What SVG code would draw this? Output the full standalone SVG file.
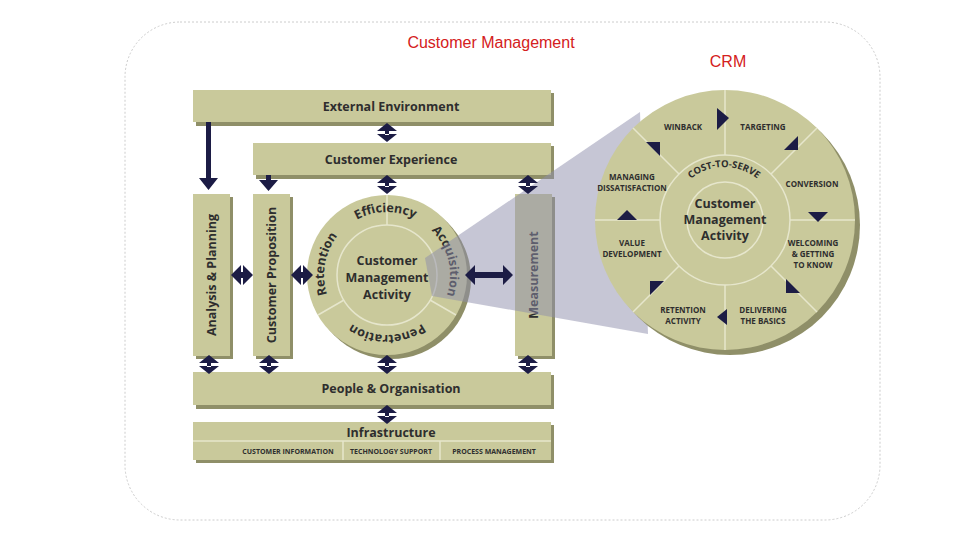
<svg xmlns="http://www.w3.org/2000/svg" width="960" height="540" viewBox="0 0 960 540">
<style>
.box{fill:#c9c99b}
.sh{fill:#8f8f68}
.t{font-family:"Open Sans","DejaVu Sans",sans-serif;font-weight:bold;fill:#2e2e2e;text-anchor:middle}
.s{font-size:8px}
.m{font-size:12.5px}
.a{fill:#1c1c45}
.div{stroke:#e6e6cc;stroke-width:1.5;fill:none}
</style>
<defs>
<path id="ring" d="M387,338 A63,63 0 1 1 387,212 A63,63 0 1 1 387,338"/>
<path id="pen" d="M447,275 A60,60 0 0 1 327,275"/>
<path id="cts" d="M671,220 A53,53 0 0 1 777,220"/>
</defs>
<rect x="125" y="22" width="755" height="498" rx="55" fill="#fff" stroke="#ccc" stroke-dasharray="2,2"/>
<text x="491" y="48" font-family="Liberation Sans,Arial,sans-serif" font-size="16" fill="#d42020" text-anchor="middle">Customer Management</text>
<text x="728" y="67" font-family="Liberation Sans,Arial,sans-serif" font-size="16" fill="#d42020" text-anchor="middle">CRM</text>

<g id="external"><rect class="sh" x="196" y="93" width="358" height="33"/><rect class="box" x="193" y="90" width="358" height="32"/><text class="t m" x="391" y="111">External Environment</text></g>
<g id="experience"><rect class="sh" x="256" y="146" width="298" height="33"/><rect class="box" x="253" y="143" width="298" height="32"/><text class="t m" x="391" y="164">Customer Experience</text></g>
<g id="analysis"><rect class="sh" x="196" y="197" width="37" height="162"/><rect class="box" x="193" y="194" width="37" height="162"/><text class="t m" transform="translate(216,275) rotate(-90)">Analysis &amp; Planning</text></g>
<g id="proposition"><rect class="sh" x="256" y="197" width="37" height="162"/><rect class="box" x="253" y="194" width="37" height="162"/><text class="t m" transform="translate(276,275) rotate(-90)">Customer Proposition</text></g>
<g id="measurement"><rect class="sh" x="518" y="197" width="37" height="162"/><rect class="box" x="515" y="194" width="37" height="162"/><text class="t m" transform="translate(538,275) rotate(-90)">Measurement</text></g>
<g id="people"><rect class="sh" x="196" y="375" width="358" height="34"/><rect class="box" x="193" y="372" width="358" height="33"/><text class="t m" x="391" y="393">People &amp; Organisation</text></g>
<g id="infra"><rect class="sh" x="196" y="425" width="358" height="38"/><rect class="box" x="193" y="422" width="358" height="38"/><text class="t m" x="391" y="437">Infrastructure</text>
<path class="div" d="M193,441 H551 M343,441 V460 M440,441 V460"/>
<text class="t" font-size="7" x="288" y="454" font-weight="normal">CUSTOMER INFORMATION</text>
<text class="t" font-size="7" x="391" y="454" font-weight="normal">TECHNOLOGY SUPPORT</text>
<text class="t" font-size="7" x="494" y="454" font-weight="normal">PROCESS MANAGEMENT</text></g>

<g id="cma">
<circle class="sh" cx="391" cy="279" r="80"/><circle class="box" cx="387" cy="275" r="80"/>
<circle class="div" cx="387" cy="275" r="50"/>
<path class="div" d="M387,195 V225 M344,300 L318,315 M430,300 L456,315"/>
<text class="t m" font-weight="normal"><textPath href="#ring" startOffset="110" text-anchor="middle">Retention</textPath></text>
<text class="t m" font-weight="normal"><textPath href="#ring" startOffset="196" text-anchor="middle">Efficiency</textPath></text>
<text class="t m" font-weight="normal"><textPath href="#ring" startOffset="282" text-anchor="middle">Acquisition</textPath></text>
<text class="t m" font-weight="normal"><textPath href="#pen" startOffset="50%" text-anchor="middle">Penetration</textPath></text>
<text class="t m" x="387" y="265">Customer</text><text class="t m" x="387" y="282">Management</text><text class="t m" x="387" y="299">Activity</text>
</g>

<polygon points="425,258 640,112 648,334 432,296" fill="#8d8dac" opacity="0.5"/>

<g id="crm">
<circle class="sh" cx="730" cy="225" r="130"/><circle class="box" cx="725" cy="220" r="130"/>
<circle class="div" cx="725" cy="220" r="65"/><circle class="div" cx="725" cy="220" r="38"/>
<path class="div" d="M725,90 V155 M725,285 V350 M595,220 H660 M790,220 H855 M633,128 L679,174 M771,266 L817,312 M817,128 L771,174 M679,266 L633,312"/>
<text class="t" font-size="9.5" font-weight="normal"><textPath href="#cts" startOffset="50%" text-anchor="middle">COST-TO-SERVE</textPath></text>
<text class="t m" x="725" y="208">Customer</text><text class="t m" x="725" y="224">Management</text><text class="t m" x="725" y="240">Activity</text>
<g class="t s">
<text x="683" y="130">WINBACK</text><text x="763" y="130">TARGETING</text>
<text x="812" y="187">CONVERSION</text>
<text x="813" y="246">WELCOMING</text><text x="813" y="257">&amp; GETTING</text><text x="813" y="268">TO KNOW</text>
<text x="763" y="313">DELIVERING</text><text x="763" y="324">THE BASICS</text>
<text x="683" y="313">RETENTION</text><text x="683" y="324">ACTIVITY</text>
<text x="632" y="246">VALUE</text><text x="632" y="257">DEVELOPMENT</text>
<text x="632" y="180">MANAGING</text><text x="632" y="191">DISSATISFACTION</text>
</g>
<g class="a">
<polygon points="717,108 729,118 717,130"/>
<polygon points="798,136 798,150 784,150"/>
<polygon points="808,212 828,212 818,222"/>
<polygon points="786,279 800,293 786,293"/>
<polygon points="727,309 727,325 717,317"/>
<polygon points="650,281 664,281 650,295"/>
<polygon points="617,220 637,220 627,210"/>
<polygon points="646,142 660,142 660,156"/>
</g>
</g>

<g id="connectors" class="a">
<path d="M206,122 h5 v56 h7 l-9.5,12 l-9.5,-12 h7 z"/>
<path d="M266,175 h5 v5 h7 l-9.5,11 l-9.5,-11 h7 z"/>
<g id="dv">
<path d="M387,123 l10,8 h-20 z M387,142 l10,-8 h-20 z M385,130 h4 v5 h-4z"/>
</g>
<use href="#dv" y="52"/><use href="#dv" x="141" y="52"/>
<use href="#dv" x="-178" y="232"/><use href="#dv" x="-118" y="232"/><use href="#dv" y="232"/><use href="#dv" x="141" y="232"/>
<use href="#dv" y="282"/>
<path d="M231,275 l10,-10 v7 h2 v-7 l10,10 l-10,10 v-7 h-2 v7 z"/>
<path d="M291,275 l10,-10 v7 h2 v-7 l10,10 l-10,10 v-7 h-2 v7 z"/>
<path d="M465,275 l10,-10 v7 h28 v-7 l10,10 l-10,10 v-7 h-28 v7 z"/>
</g>
</svg>
